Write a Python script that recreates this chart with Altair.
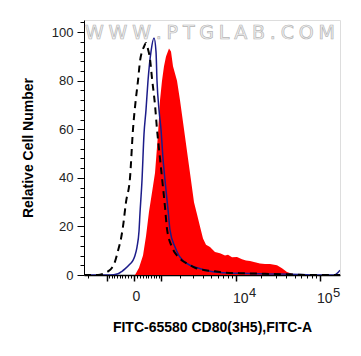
import altair as alt
import numpy as np
import pandas as pd

# Display channel (0-256 across the plot) and relative cell number (%)
red_x = [51, 55, 59, 62, 65, 68, 71, 74, 76, 78, 80, 82, 85, 87, 89, 93, 96, 100, 104, 107, 110, 113, 116, 119, 122,
         126, 131, 136, 141, 144, 148, 153, 158, 162, 166, 171, 176, 181, 186, 193, 198, 203, 208, 213, 221, 256]
red_y = [0, 3, 8, 16, 26, 34, 42, 58, 72, 80, 86, 90, 93.3, 92, 86, 80, 72, 60, 48, 39, 30, 25, 20, 15, 12.5,
         11.5, 9.5, 9, 8, 8.3, 7.3, 7.4, 6.5, 6, 5.8, 5.2, 4.7, 4.5, 4.5, 4, 2.8, 1.2, 0.5, 0.2, 0, 0]

blue_x = [0, 26, 34, 38, 41, 46, 49, 51, 53, 55, 56, 58, 60, 62, 64, 67, 70, 72, 73, 75, 77, 79, 81, 84, 86,
          91, 95, 99, 106, 113, 126, 136, 156, 176, 196, 216, 236, 250, 254, 256]
blue_y = [0, 0, 0.5, 1.5, 2.5, 4.5, 6, 8, 11.5, 18, 25.5, 39, 58, 68, 80, 92, 97.6, 92, 80, 68, 60, 48, 39, 27, 18.5,
          11.5, 8, 6, 4, 3, 1.5, 1, 0.7, 0.5, 0.4, 0.2, 0, 0, 1, 2]

dash_x = [0, 14, 19, 24, 28, 31, 34, 37, 39, 42, 46, 49, 52, 54, 56, 58, 60, 62, 64, 66, 68, 71, 73, 76, 78,
          81, 83, 88, 93, 98, 104, 111, 121, 131, 141, 161, 181, 201, 221, 256]
dash_y = [0, 0, 0.5, 1.5, 3, 5.5, 10, 15, 20, 30, 40, 60, 73, 80, 88, 92, 94, 95.5, 93, 89, 81, 70, 60, 48, 40,
          28, 19, 11.5, 8, 6, 4.5, 3, 2, 1.5, 1, 0.7, 0.5, 0.3, 0, 0]

major_vals = [-1000, 0, 1000, 10000, 100000]
minor_vals = (list(range(-9000, -1000, 1000)) + list(range(-900, 0, 100)) + list(range(100, 1000, 100))
              + list(range(2000, 10000, 1000)) + list(range(20000, 100000, 10000)) + [200000])
power_vals = [10000, 100000]
power_base = ["10", "10"]
power_exp = ["4", "5"]
y_major = [0, 20, 40, 60, 80, 100]
y_minor = [v for v in range(0, 105, 4) if v % 20 != 0]
watermark_text = "WWW.PTGLAB.COM"


def disp(v):
    return round(float(50 + 36.5 * np.arcsinh(v / 1227.0)), 3)


major_pos = [disp(v) for v in major_vals if 0 <= disp(v) <= 256]
minor_pos = [disp(v) for v in minor_vals if 0 <= disp(v) <= 256]
zero_expr = f"abs(datum.value - {disp(0)}) < 0.01 ? '0' : ''"

red_df = pd.DataFrame({"x": red_x, "y": red_y})
blue_df = pd.DataFrame({"x": blue_x, "y": blue_y})
dash_df = pd.DataFrame({"x": dash_x, "y": dash_y})
pow_df = pd.DataFrame({"x": [disp(v) for v in power_vals], "b": power_base, "e": power_exp})

xs = alt.Scale(domain=[0, 256], nice=False, zero=False)
ys = alt.Scale(domain=[0, 105], nice=False, zero=False)
FONT = "Liberation Sans"

red = alt.Chart(red_df).mark_area(color="#ff0000", opacity=1, clip=True).encode(
    x=alt.X("x:Q", scale=xs, axis=alt.Axis(values=minor_pos, tickSize=3, labels=False, domain=False,
                                           grid=False, title=None, orient="bottom", tickColor="black")),
    y=alt.Y("y:Q", scale=ys, axis=alt.Axis(values=y_major, tickSize=7, grid=False, orient="left",
                                           title="Relative Cell Number", titleFont=FONT, titleFontSize=14,
                                           titleFontWeight="bold", titleColor="black", titlePadding=16,
                                           labelFont=FONT, labelFontSize=13, labelColor="#222222",
                                           labelPadding=4, domainColor="black", tickColor="black")),
)

blue = alt.Chart(blue_df).mark_line(color="#1c1c8a", strokeWidth=1.5, clip=True, interpolate="monotone").encode(
    x=alt.X("x:Q", scale=xs, axis=alt.Axis(values=major_pos, tickSize=6, grid=False, orient="bottom",
                                           labelExpr=zero_expr, labelAlign="left", labelOffset=-2,
                                           labelFont=FONT, labelFontSize=14, labelColor="#222222",
                                           labelPadding=8, domainColor="black", domainWidth=1.5,
                                           tickColor="black", tickWidth=1.5,
                                           title="FITC-65580 CD80(3H5),FITC-A", titleFont=FONT,
                                           titleFontSize=14, titleFontWeight="bold", titleColor="black",
                                           titlePadding=17)),
    y=alt.Y("y:Q", scale=ys, axis=alt.Axis(values=y_minor, tickSize=4, labels=False, domain=False,
                                           grid=False, title=None, orient="left", tickColor="black")),
)

dash = alt.Chart(dash_df).mark_line(color="black", strokeWidth=2, strokeDash=[7, 5], clip=True,
                                    interpolate="monotone").encode(
    x=alt.X("x:Q", scale=xs, axis=None),
    y=alt.Y("y:Q", scale=ys, axis=None),
)

pow_base = alt.Chart(pow_df).mark_text(font=FONT, fontSize=14, color="#222222", align="left",
                                       baseline="alphabetic", dx=-3).encode(
    x=alt.X("x:Q", scale=xs, axis=None), y=alt.value(283), text="b:N")
pow_exp = alt.Chart(pow_df).mark_text(font=FONT, fontSize=13, color="#222222", align="left",
                                      baseline="alphabetic", dx=13).encode(
    x=alt.X("x:Q", scale=xs, axis=None), y=alt.value(277), text="e:N")

# watermark letters with tracking
adv = {"W": .989, ".": .318, "P": .603, "T": .611, "G": .775, "L": .557, "A": .684, "B": .686,
       "C": .698, "O": .787, "M": .863}
wm_size = 19
track = 4.8
xpos, cur = [], 0.0
for ch in watermark_text:
    w = adv[ch] * wm_size
    xpos.append(cur + w / 2)
    cur += w + track
total = cur - track
xpos = [1 + p for p in xpos]
wm_df = pd.DataFrame({"t": list(watermark_text), "px": xpos})
watermark = alt.Chart(wm_df).mark_text(font="DejaVu Sans", fontSize=wm_size, fill="#f2f2f2", stroke="#b5b5b5",
                                       strokeWidth=0.7, align="center", baseline="middle").encode(
    text="t:N", x=alt.X("px:Q", scale=None), y=alt.value(13))

chart = alt.layer(red, blue, dash, pow_base, pow_exp, watermark).resolve_axis(
    x="independent", y="independent").properties(
    width=256, height=255,
    autosize=alt.AutoSizeParams(type="none"),
    padding={"left": 84, "top": 20, "right": 21, "bottom": 81},
).configure_view(stroke="black", strokeWidth=1).configure(background="white")

chart.save("out.html", embed_options={"renderer": "svg", "actions": False})
